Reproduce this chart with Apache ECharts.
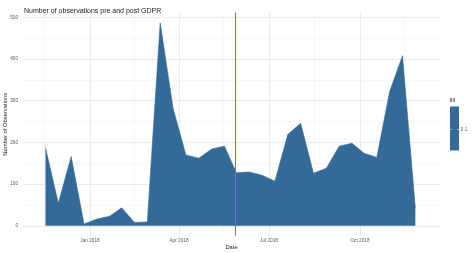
<!DOCTYPE html>
<html>
<head>
<meta charset="utf-8">
<script src="https://cdn.jsdelivr.net/npm/echarts@6/dist/echarts.min.js"></script>
<style>
html,body{margin:0;padding:0;background:#fff;}
#c{width:474px;height:253px;}
</style>
</head>
<body>
<div id="c"></div>
<script>
// ---- data ----
var dates = ['2017-11-17','2017-11-30','2017-12-13','2017-12-26','2018-01-08','2018-01-21',
  '2018-02-02','2018-02-15','2018-02-28','2018-03-13','2018-03-26','2018-04-08','2018-04-21',
  '2018-05-04','2018-05-17','2018-05-29','2018-06-11','2018-06-24','2018-07-07','2018-07-20',
  '2018-08-02','2018-08-15','2018-08-28','2018-09-10','2018-09-23','2018-10-05','2018-10-18',
  '2018-10-31','2018-11-13','2018-11-26'];
var counts = [188, 54, 166, 4, 16, 23, 43, 8, 9, 487, 282, 170, 162, 184, 191, 127, 129, 121,
  107, 219, 246, 126, 138, 191, 198, 174, 164, 322, 408, 42];
var gdprDate = '2018-05-28';
var xMajorBreaks = ['2018-01-01','2018-04-01','2018-07-01','2018-10-01'];
var xMinorBreaks = ['2017-11-16','2018-02-15','2018-05-16','2018-08-16','2018-11-15'];
var yMajorBreaks = [0, 100, 200, 300, 400, 500];
var yMinorBreaks = [50, 150, 250, 350, 450];
var monthNames = ['Jan','Feb','Mar','Apr','May','Jun','Jul','Aug','Sep','Oct','Nov','Dec'];

var FONT = '"Liberation Sans", Arial, sans-serif';
var FILL = '#336A98';
var majorStyle = {color:'#e8e8ee', width:0.9, type:'solid'};
var minorStyle = {color:'#f3f3f6', width:0.6, type:'solid'};

function ts(s){ return +new Date(s.replace(/-/g,'/')); }

var seriesData = dates.map(function(d,i){ return [ts(d), counts[i]]; });
var yMax = Math.max.apply(null, counts);

var gridLines = [];
xMinorBreaks.forEach(function(d){ gridLines.push({xAxis: ts(d), lineStyle: minorStyle}); });
yMinorBreaks.forEach(function(v){ gridLines.push({yAxis: v, lineStyle: minorStyle}); });
xMajorBreaks.forEach(function(d){ gridLines.push({xAxis: ts(d), lineStyle: majorStyle}); });
yMajorBreaks.forEach(function(v){ gridLines.push({yAxis: v, lineStyle: majorStyle}); });

var chart = echarts.init(document.getElementById('c'), null, {renderer:'canvas'});
chart.setOption({
  animation: false,
  backgroundColor: '#fff',
  title: {
    text: 'Number of observations pre and post GDPR',
    left: 19, top: 2.5,
    textStyle: {fontFamily: FONT, fontSize: 7, fontWeight: 'normal', color: '#1a1a1a'}
  },
  grid: {left: 23, right: 34, top: 12.6, bottom: 17.1, containLabel: false, outerBoundsMode: 'none'},
  xAxis: {
    type: 'value',
    min: ts('2017-10-25 07:00'),
    max: ts('2018-12-20 22:00'),
    name: 'Date', nameLocation: 'middle', nameGap: 8.5, nameMoveOverlap: false,
    nameTextStyle: {fontFamily: FONT, fontSize: 5.8, color: '#262626', fontWeight: 'normal'},
    axisLine: {show: false}, axisTick: {show: false}, splitLine: {show: false},
    axisLabel: {
      customValues: xMajorBreaks.map(ts),
      margin: 2.6, fontFamily: FONT, fontSize: 4.7, color: '#5a5a5a',
      formatter: function(v){ var d = new Date(v); return monthNames[d.getMonth()] + ' ' + d.getFullYear(); }
    }
  },
  yAxis: {
    type: 'value',
    min: -0.05 * yMax, max: 1.05 * yMax,
    name: 'Number of Observations', nameLocation: 'middle', nameGap: 15, nameMoveOverlap: false,
    nameTextStyle: {fontFamily: FONT, fontSize: 5.8, color: '#262626', fontWeight: 'normal'},
    axisLine: {show: false}, axisTick: {show: false}, splitLine: {show: false},
    axisLabel: {
      customValues: yMajorBreaks,
      margin: 5, fontFamily: FONT, fontSize: 4.7, color: '#5a5a5a'
    }
  },
  series: [
    {
      type: 'line', z: 0, silent: true, data: seriesData, showSymbol: false,
      lineStyle: {opacity: 0},
      markLine: {z: 0, silent: true, symbol: ['none','none'], label: {show: false}, data: gridLines, animation: false}
    },
    {
      type: 'line', z: 4, data: seriesData, showSymbol: false, silent: true,
      lineStyle: {color: FILL, width: 0.6},
      areaStyle: {color: FILL, opacity: 1}
    },
    {
      type: 'line', z: 8, data: [], silent: true,
      markLine: {z: 8, silent: true, symbol: ['none','none'], label: {show: false},
        lineStyle: {color: '#6874c4', width: 1, type: 'solid'},
        data: [{xAxis: ts(gdprDate)}], animation: false}
    }
  ],
  graphic: [
    {type: 'text', left: 449.5, top: 97, style: {text: 'fill', font: '5.8px ' + FONT, fill: '#262626'}},
    {type: 'rect', shape: {x: 450, y: 106.5, width: 9, height: 44}, style: {fill: FILL}},
    {type: 'line', shape: {x1: 450, y1: 129.5, x2: 451.8, y2: 129.5}, style: {stroke: '#fff', lineWidth: 0.6}},
    {type: 'line', shape: {x1: 457.2, y1: 129.5, x2: 459, y2: 129.5}, style: {stroke: '#fff', lineWidth: 0.6}},
    {type: 'text', left: 460.8, top: 127, style: {text: '0.1', font: '4.7px ' + FONT, fill: '#5a5a5a'}}
  ]
});
</script>
</body>
</html>
